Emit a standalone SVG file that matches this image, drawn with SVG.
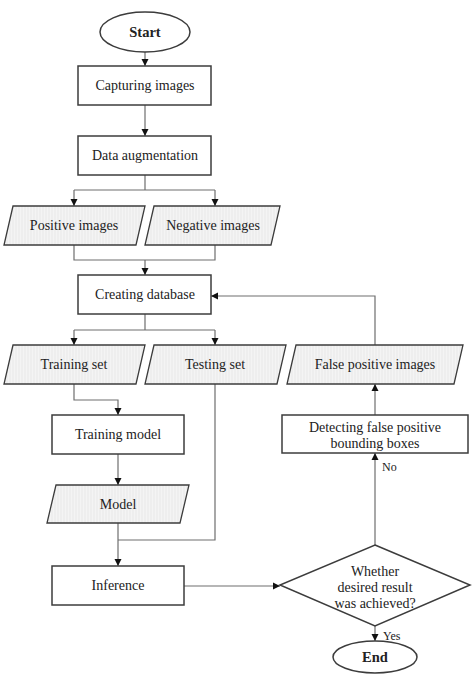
<svg xmlns="http://www.w3.org/2000/svg" width="474" height="686" viewBox="0 0 474 686">
<defs>
<marker id="arr" markerWidth="8" markerHeight="8" refX="7" refY="4" orient="auto" markerUnits="userSpaceOnUse">
<path d="M0,0.5 L7,4 L0,7.5 z" fill="#111"/>
</marker>
<pattern id="hatch" width="3" height="4" patternUnits="userSpaceOnUse">
<rect width="3" height="4" fill="#f4f4f4"/>
<line x1="1" y1="0" x2="1" y2="4" stroke="#e6e6e6" stroke-width="0.8"/>
</pattern>
<style>
.box{fill:#fff;stroke:#3c3c3c;stroke-width:1.5}
.io{fill:url(#hatch);stroke:#3c3c3c;stroke-width:1.3}
.t{font-family:"Liberation Serif","Times New Roman",serif;font-size:14px;fill:#222;text-anchor:middle}
.b{font-weight:bold;font-size:14.5px}
.s{font-size:12px;text-anchor:start}
.c{fill:none;stroke:#6e6e6e;stroke-width:1.2}
.a{marker-end:url(#arr)}
</style>
</defs>
<rect width="474" height="686" fill="#fff"/>
<g id="connectors">
<path class="c a" d="M145,52 V66"/>
<path class="c a" d="M145,105 V136"/>
<path class="c" d="M145,175 V190 M74,190 H215"/>
<path class="c a" d="M74,190 V206"/>
<path class="c a" d="M215,190 V206"/>
<path class="c" d="M74,245 V260 H215 V245"/>
<path class="c a" d="M145,260 V275"/>
<path class="c" d="M145,314 V330 M74,330 H215"/>
<path class="c a" d="M74,330 V345"/>
<path class="c a" d="M215,330 V345"/>
<path class="c a" d="M74,384 V400 H118 V415"/>
<path class="c a" d="M118,454 V485"/>
<path class="c" d="M215,384 V540 H118"/>
<path class="c a" d="M118,523 V566"/>
<path class="c a" d="M184,586 H280"/>
<path class="c a" d="M375,545 V453"/>
<path class="c a" d="M375,415 V384"/>
<path class="c a" d="M375,345 V296 H211"/>
<path class="c a" d="M375,626 V641"/>
<text class="t s" x="382" y="471">No</text>
<text class="t s" x="383" y="640">Yes</text>
</g>
<g id="start"><ellipse class="box" cx="145" cy="32" rx="45" ry="20"/><text class="t b" x="145" y="37">Start</text></g>
<g id="capturing"><rect class="box" x="78" y="66" width="133" height="39"/><text class="t" x="145" y="90">Capturing images</text></g>
<g id="augmentation"><rect class="box" x="78" y="136" width="133" height="39"/><text class="t" x="145" y="160">Data augmentation</text></g>
<g id="positive"><polygon class="io" points="13,206 145,206 136,245 4,245"/><text class="t" x="74" y="230">Positive images</text></g>
<g id="negative"><polygon class="io" points="154,206 280,206 271,245 145,245"/><text class="t" x="213" y="230">Negative images</text></g>
<g id="database"><rect class="box" x="78" y="275" width="133" height="39"/><text class="t" x="145" y="299">Creating database</text></g>
<g id="training-set"><polygon class="io" points="13,345 145,345 136,384 4,384"/><text class="t" x="74" y="369">Training set</text></g>
<g id="testing-set"><polygon class="io" points="154,345 286,345 277,384 145,384"/><text class="t" x="215" y="369">Testing set</text></g>
<g id="false-positive"><polygon class="io" points="296,345 463,345 454,384 287,384"/><text class="t" x="375" y="369">False positive images</text></g>
<g id="training-model"><rect class="box" x="52" y="415" width="132" height="39"/><text class="t" x="118" y="439">Training model</text></g>
<g id="detecting"><rect class="box" x="282" y="415" width="186" height="38"/><text class="t" x="375" y="432">Detecting false positive</text><text class="t" x="375" y="448">bounding boxes</text></g>
<g id="model"><polygon class="io" points="56,485 189,485 180,523 47,523"/><text class="t" x="118" y="509">Model</text></g>
<g id="inference"><rect class="box" x="52" y="566" width="132" height="39"/><text class="t" x="118" y="590">Inference</text></g>
<g id="decision"><polygon class="box" points="375,545 470,585 375,626 280,585"/><text class="t" x="375" y="576">Whether</text><text class="t" x="375" y="592">desired result</text><text class="t" x="375" y="608">was achieved?</text></g>
<g id="end"><ellipse class="box" cx="375" cy="657" rx="42" ry="16"/><text class="t b" x="375" y="662">End</text></g>
</svg>
